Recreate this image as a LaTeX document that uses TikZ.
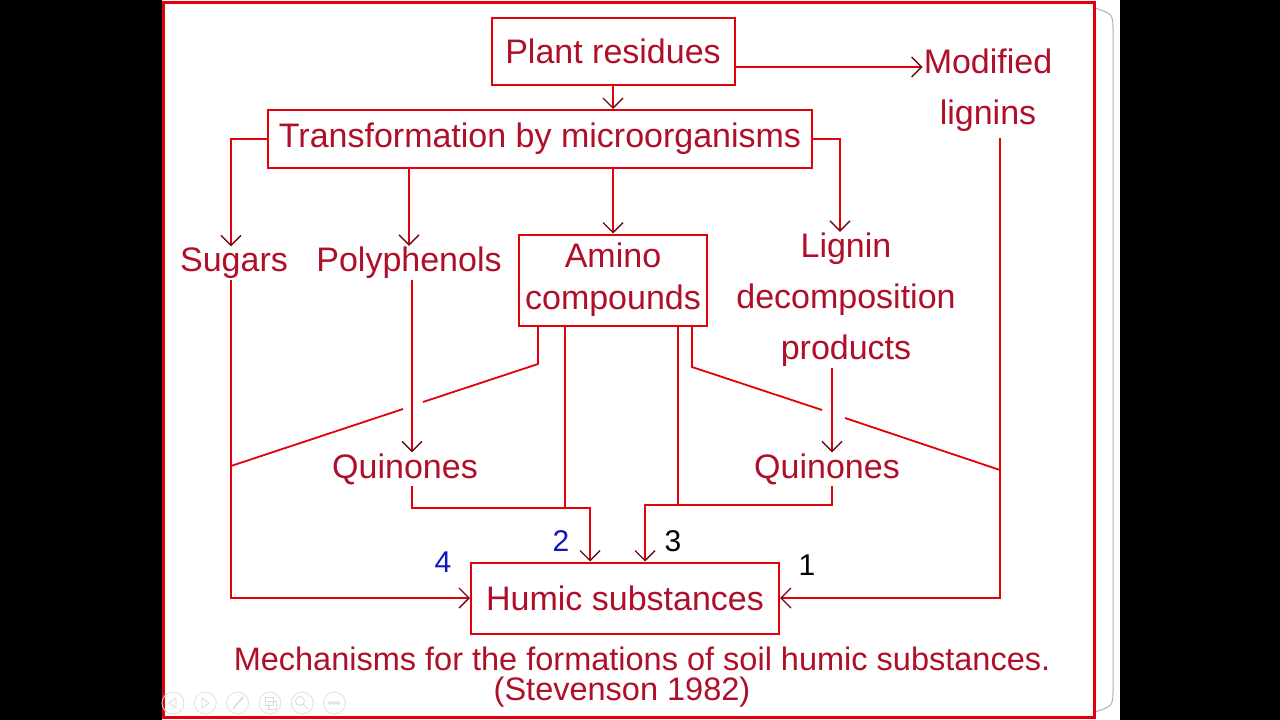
\documentclass[tikz,border=0pt]{standalone}
\usepackage{fontspec}
\setmainfont{Liberation Sans}
\usetikzlibrary{arrows.meta}
\definecolor{linered}{RGB}{228,0,10}
\definecolor{textred}{RGB}{175,15,40}
\definecolor{tipdark}{RGB}{110,10,20}
\definecolor{numblue}{RGB}{20,20,190}
\tikzset{
  box/.style   = {draw=linered, line width=2pt, text=textred, inner sep=0pt,
                  font=\fontsize{34}{42}\selectfont, align=center},
  word/.style  = {text=textred, inner sep=1pt, align=center,
                  font=\fontsize{34}{51}\selectfont},
  flow/.style  = {draw=linered, line width=1.8pt,
                  -{Straight Barb[length=10pt,width=20pt,line width=1.4pt,color=tipdark]}},
  link/.style  = {draw=linered, line width=1.8pt},
  num/.style   = {inner sep=0pt, font=\fontsize{30}{36}\selectfont}
}
\begin{document}
\begin{tikzpicture}[x=1pt,y=-1pt]
  \useasboundingbox (0,0) rectangle (1280,720);
  % slide background
  \fill[black] (0,0) rectangle (1280,720);
  \fill[white] (162,0) rectangle (1120,720);
  \draw[gray!60, line width=1pt] (1095,8) .. controls (1113,14) .. (1113,32)
    -- (1113,688) .. controls (1113,706) .. (1095,712);
  \draw[linered, line width=3pt] (163,2) rectangle (1094,717);
  % player buttons
  \foreach \i in {0,...,5}
    \draw[gray!25, line width=0.8pt] (173+32.3*\i,703) circle (11);
  \draw[gray!30, line width=0.8pt] (176,698) -- (169,703) -- (176,708) -- cycle;
  \draw[gray!30, line width=0.8pt] (202,698) -- (209,703) -- (202,708) -- cycle;
  \draw[gray!30, line width=1.5pt] (233,709) -- (243,697);
  \draw[gray!30, line width=0.8pt] (265,697) rectangle (273,705) (268,701) rectangle (276,709);
  \draw[gray!30, line width=0.8pt] (300,701) circle (4.5) (303,704) -- (308,709);
  \foreach \i in {-4,0,4}
    \draw[gray!30, line width=0.8pt] (334+\i,703) circle (1.5);

  % nodes
  \node[box, minimum width=243pt, minimum height=67pt] (plant) at (613,51) {Plant residues};
  \node[word] (modlig) at (988,90) {Modified\\lignins};
  \node[box, minimum width=544pt, minimum height=58pt] (trans) at (540,139) {Transformation by microorganisms};
  \node[word] (sugars) at (234,263) {Sugars};
  \node[word] (polyph) at (409,263) {Polyphenols};
  \node[box, minimum width=188pt, minimum height=91pt] (amino) at (613,280) {Amino\\compounds};
  \node[word] (lignin) at (846,300) {Lignin\\decomposition\\products};
  \node[word] (quinL) at (405,469) {Quinones};
  \node[word] (quinR) at (827,469) {Quinones};
  \node[box, minimum width=308pt, minimum height=71pt] (humic) at (625,598) {Humic substances};
  \node[num, text=numblue] (n4) at (443,562) {4};
  \node[num, text=numblue] (n2) at (561,541) {2};
  \node[num, text=black] (n3) at (673,541) {3};
  \node[num, text=black] (n1) at (807,565) {1};
  \node[word, font=\fontsize{32.5}{34}\selectfont] (caption) at (642,659)
    {Mechanisms for the formations of soil humic substances.};
  \node[word, font=\fontsize{32.5}{34}\selectfont] (cite) at (622,692) {(Stevenson 1982)};

  % bends and crossings
  \coordinate (lp) at (840,139);
  \coordinate (lq) at (832,0);
  \coordinate (sl) at (231,466);
  \coordinate (al) at (538,364);
  \coordinate (gl1) at (403,409);
  \coordinate (gl2) at (423,402);
  \coordinate (ar) at (692,367);
  \coordinate (sr) at (1000,470);
  \coordinate (gr1) at (822,410);
  \coordinate (gr2) at (845,418);
  \coordinate (j2) at (590,508);
  \coordinate (j3) at (645,505);
  \coordinate (ml) at (1000,138);

  % connectors
  \draw[flow] ([yshift=-16pt]plant.east) -- ([yshift=-16pt]plant.east -| modlig.west);
  \draw[flow] (plant.south) -- (plant.south |- trans.north);
  \draw[flow] (trans.west) -| ([xshift=-3pt]sugars.north);
  \draw[flow] (trans.south -| polyph) -- (polyph.north);
  \draw[flow] (trans.south -| amino) -- (amino.north);
  \draw[flow] (trans.east) -| (lp |- lignin.north);
  \draw[flow] ([xshift=-3pt]sugars.south) |- (humic.west);
  \draw[link] (sl) -- (gl1);
  \draw[link] (gl2) -- (al) -- (al |- amino.south);
  \draw[link] (amino.south -| ar) -- (ar) -- (gr1);
  \draw[link] (gr2) -- (sr);
  \draw[flow] ([xshift=3pt]polyph.south) -- ([xshift=7pt]quinL.north);
  \draw[flow] (lignin.south -| lq) -- (quinR.north -| lq);
  \draw[flow] ([xshift=7pt]quinL.south) |- (j2) -- (j2 |- humic.north);
  \draw[link] (amino.south -| 565,0) -- (565,508);
  \draw[flow] (quinR.south -| lq) |- (j3) -- (j3 |- humic.north);
  \draw[link] (amino.south -| 678,0) -- (678,505);
  \draw[flow] (ml) |- (humic.east);
\end{tikzpicture}
\end{document}
